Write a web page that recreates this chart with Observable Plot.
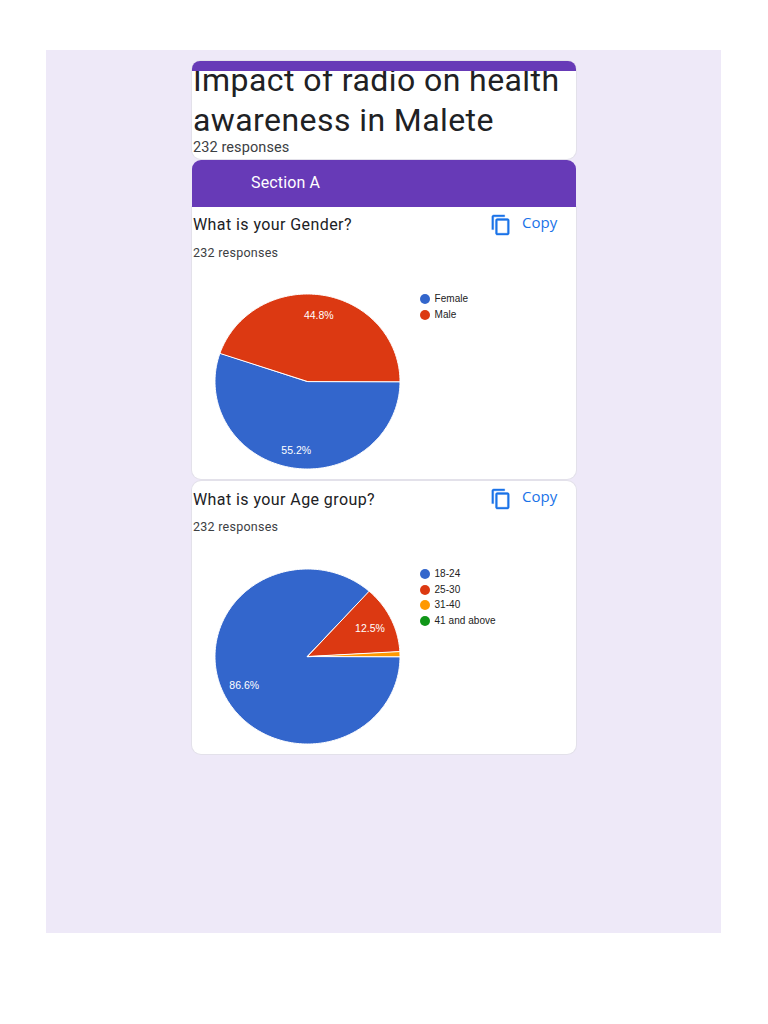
<!DOCTYPE html>
<html><head><meta charset="utf-8">
<script src="https://cdn.jsdelivr.net/npm/d3@7"></script>
<script src="https://cdn.jsdelivr.net/npm/@observablehq/plot@0.6"></script>
<style>
html,body{margin:0;padding:0;background:#fff;}
body{width:768px;height:1024px;position:relative;overflow:hidden;font-family:Roboto,sans-serif;color:#202124;}
.a{position:absolute;white-space:nowrap;}
.card{background:#fff;box-sizing:border-box;box-shadow:0 0 0 1px #e3e1ea;}
.leg{font:10px "Liberation Sans",Arial,sans-serif;color:#222;letter-spacing:.05px;}
.sw{width:10px;height:10px;border-radius:50%;}
.copy{color:#1a73e8;font:500 15px "Open Sans",sans-serif;}
</style></head><body>
<div class="a" style="left:46px;top:50px;width:675px;height:883px;background:#eee9f8"></div>
<div class="a card" style="left:192px;top:61px;width:384px;height:98px;border-radius:9px;overflow:hidden"></div>
<div class="a" id="title" style="left:193px;top:61px;font-size:32px;line-height:39.5px;letter-spacing:.42px;color:#202124">Impact of radio on health<br>awareness in Malete</div>
<div class="a" style="left:192px;top:61px;width:384px;height:9.5px;background:#673ab7;border-radius:8px 8px 0 0"></div>
<div class="a" style="left:193px;top:139px;font-size:14.5px;letter-spacing:.1px;color:#3c4043">232 responses</div>
<div class="a card" style="left:192px;top:207px;width:384px;height:272px;border-radius:0 0 9px 9px"></div>
<div class="a card" style="left:192px;top:481px;width:384px;height:273px;border-radius:9px"></div>
<div class="a" style="left:192px;top:160px;width:384px;height:47px;background:#673ab7;border-radius:9px 9px 0 0"></div>
<div class="a" style="left:251px;top:173px;font-size:16px;color:#fff;letter-spacing:.15px">Section A</div>
<div id="root"></div>
<script>
const genderCategories = ["Female", "Male"];
const genderValues = [55.2, 44.8];
const ageCategories = ["18-24", "25-30", "31-40", "41 and above"];
const ageValues = [86.6, 12.5, 0.9, 0];
const sliceColors = ["#3366cc", "#dc3912", "#ff9900", "#109618"];
const questions = ["What is your Gender?", "What is your Age group?"];
const responseLabel = "232 responses";

const root = document.getElementById("root");
function div(cls, style, text) {
  const d = document.createElement("div");
  d.className = "a " + cls; d.style.cssText = style;
  if (text != null) d.textContent = text;
  root.appendChild(d); return d;
}

function pieChart(categories, values, top) {
  const total = d3.sum(values);
  let cum = 0;
  const slices = [], labels = [];
  values.forEach((v, i) => {
    const start = cum / total; cum += v; const end = cum / total;
    if (v <= 0) return;
    // clockwise from 3 o'clock
    const ang = f => Math.PI / 2 + f * 2 * Math.PI;
    slices.push({cat: categories[i], x: 0, y: 0});
    const n = Math.max(2, Math.ceil((end - start) * 360));
    for (let k = 0; k <= n; k++) {
      const a = ang(start + (end - start) * k / n);
      slices.push({cat: categories[i], x: Math.sin(a), y: Math.cos(a)});
    }
    if (v > 5) {
      const m = ang((start + end) / 2);
      labels.push({x: 0.75 * Math.sin(m), y: 0.78 * Math.cos(m) - 0.015, t: v.toFixed(1) + "%"});
    }
  });
  const chart = Plot.plot({
    width: 240, height: 195, margin: 0,
    style: {background: "transparent", overflow: "visible"},
    x: {domain: [-1, 1], range: [22.5, 207.5], axis: null},
    y: {domain: [-1, 1], range: [184.5, 9.5], axis: null},
    color: {domain: categories, range: sliceColors},
    marks: [
      Plot.line(slices, {x: "x", y: "y", z: "cat", fill: "cat", stroke: "#fff", strokeWidth: 1, curve: "linear-closed"}),
      Plot.text(labels, {x: "x", y: "y", text: "t", fill: "#fff", fontSize: 10.5, fontFamily: "Liberation Sans, Arial, sans-serif"})
    ]
  });
  chart.style.position = "absolute";
  chart.style.left = "192px";
  chart.style.top = top + "px";
  root.appendChild(chart);
}

function legend(categories, top) {
  categories.forEach((c, i) => {
    const y = top + i * (categories.length > 2 ? 15.5 : 16);
    div("sw", `left:420px;top:${y - 5}px;background:${sliceColors[i]}`);
    div("leg", `left:434.5px;top:${y - 6}px;line-height:12px`, c);
  });
}

function copyButton(top) {
  const ns = "http://www.w3.org/2000/svg";
  const s = document.createElementNS(ns, "svg");
  s.setAttribute("width", 22); s.setAttribute("height", 22); s.setAttribute("viewBox", "0 0 24 24");
  s.style.cssText = `position:absolute;left:490px;top:${top + 1}px`;
  const p = document.createElementNS(ns, "path");
  p.setAttribute("d", "M16 1H4c-1.1 0-2 .9-2 2v14h2V3h12V1zm3 4H8c-1.1 0-2 .9-2 2v14c0 1.1.9 2 2 2h11c1.1 0 2-.9 2-2V7c0-1.1-.9-2-2-2zm0 16H8V7h11v14z");
  p.setAttribute("fill", "#1a73e8");
  p.setAttribute("stroke", "#1a73e8");
  p.setAttribute("stroke-width", ".4");
  s.appendChild(p); root.appendChild(s);
  div("copy", `left:522px;top:${top - 2}px;line-height:22px`, "Copy");
}

div("", "left:193px;top:215px;font-size:16px;letter-spacing:.42px;color:#202124", questions[0]);
div("", "left:193px;top:245px;font-size:12.5px;letter-spacing:.25px;color:#3c4043", responseLabel);
copyButton(213);
pieChart(genderCategories, genderValues, 284);
legend(genderCategories, 299);

div("", "left:193px;top:490px;font-size:16px;letter-spacing:.42px;color:#202124", questions[1]);
div("", "left:193px;top:519px;font-size:12.5px;letter-spacing:.25px;color:#3c4043", responseLabel);
copyButton(487);
pieChart(ageCategories, ageValues, 559);
legend(ageCategories, 574);
</script>
</body></html>
